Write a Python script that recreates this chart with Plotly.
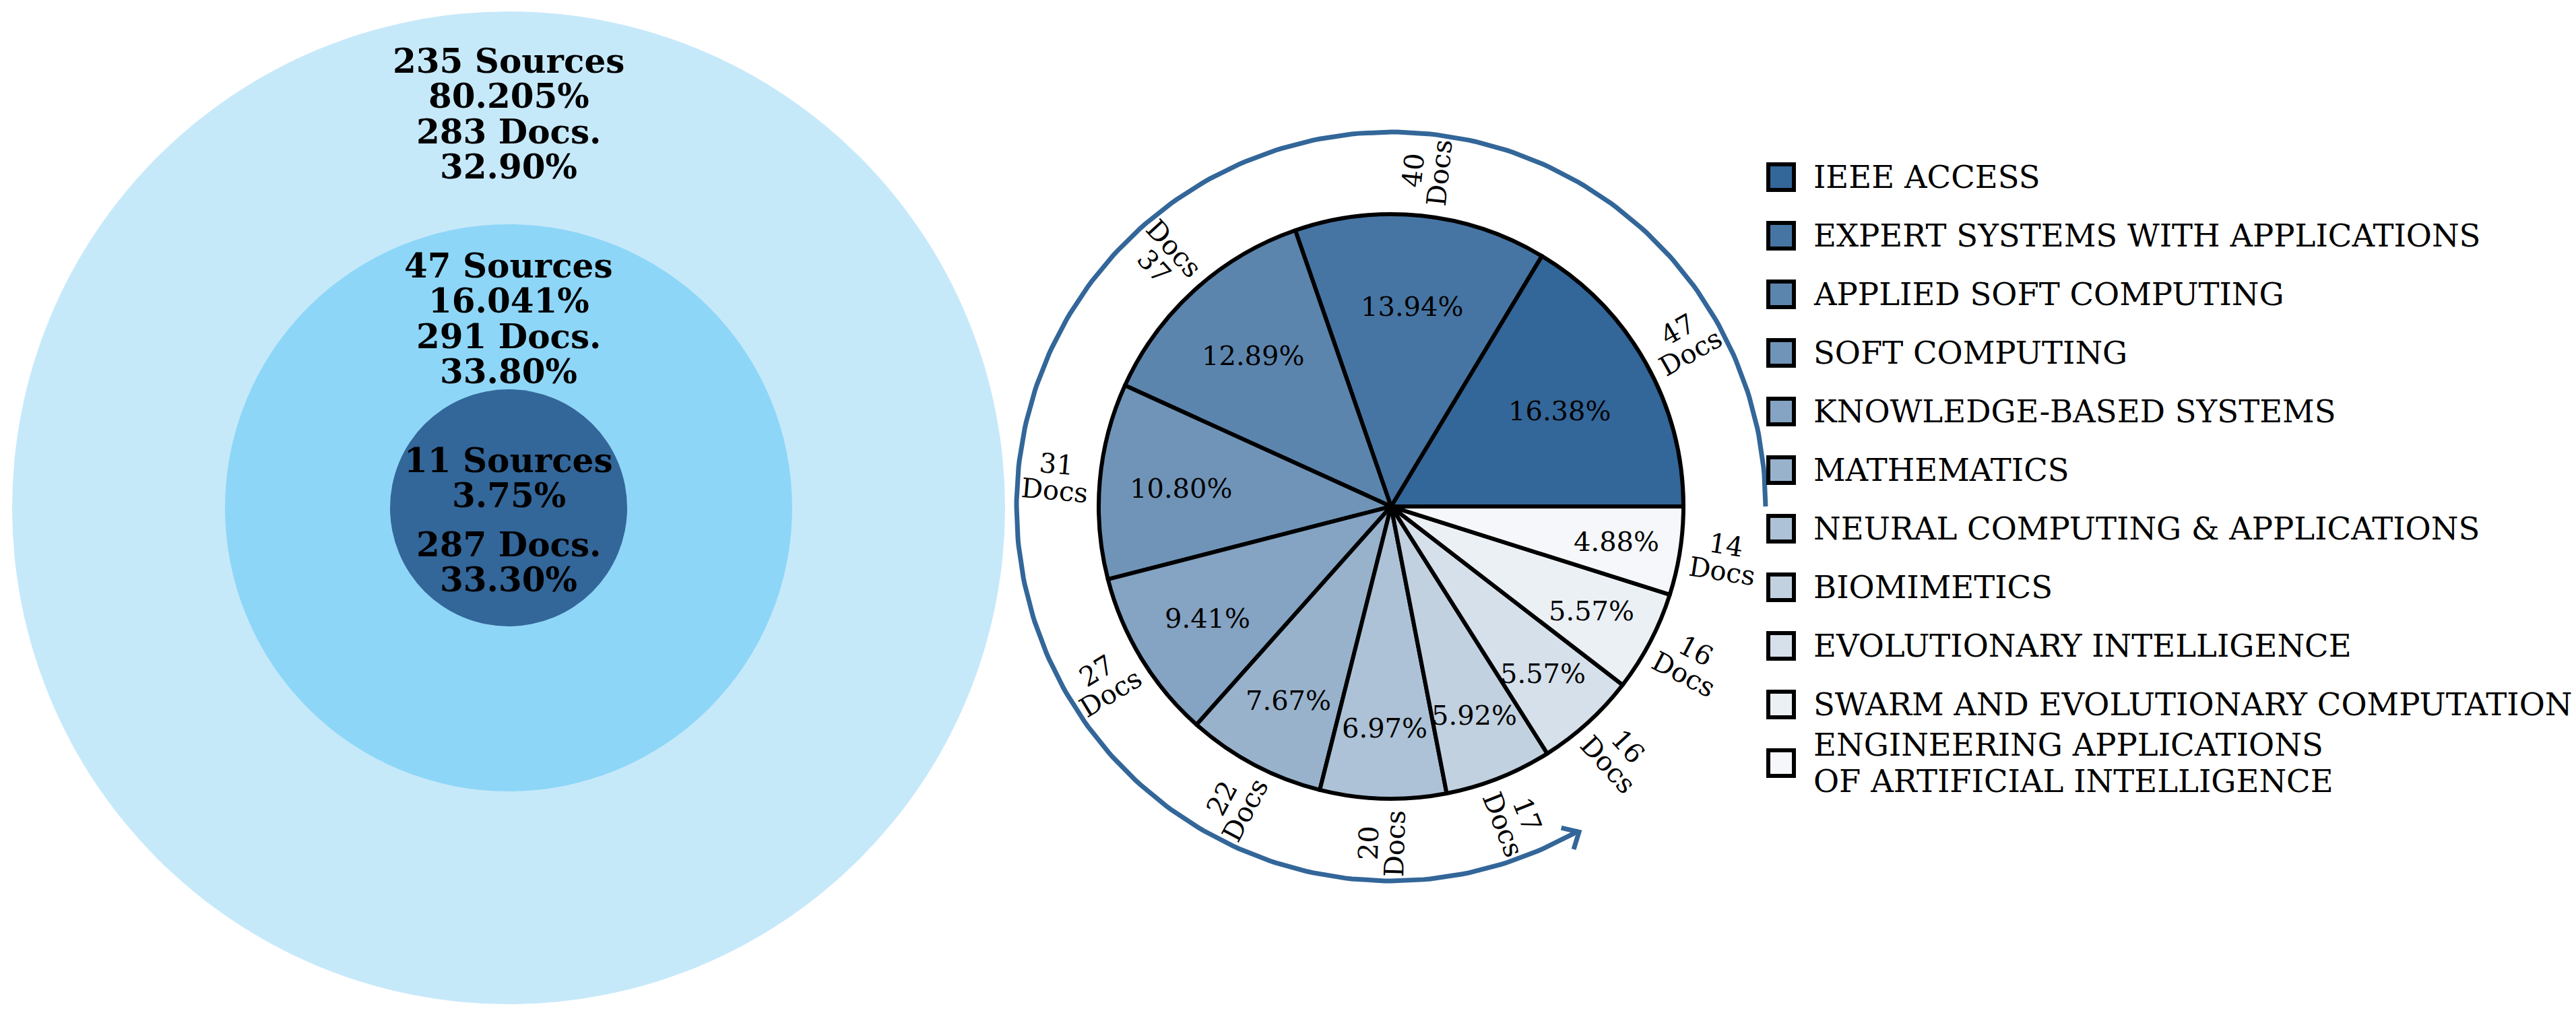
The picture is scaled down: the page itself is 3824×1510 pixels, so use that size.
import math
import plotly.graph_objects as go

W, H = 3824, 1510

# ---------------- data ----------------
# Bradford zones (left)
zone_sources = [235, 47, 11]
zone_source_pct = [80.205, 16.041, 3.75]
zone_docs = [283, 291, 287]
zone_docs_pct = [32.90, 33.80, 33.30]

# Core sources (right)
journals = [
    "IEEE ACCESS",
    "EXPERT SYSTEMS WITH APPLICATIONS",
    "APPLIED SOFT COMPUTING",
    "SOFT COMPUTING",
    "KNOWLEDGE-BASED SYSTEMS",
    "MATHEMATICS",
    "NEURAL COMPUTING & APPLICATIONS",
    "BIOMIMETICS",
    "EVOLUTIONARY INTELLIGENCE",
    "SWARM AND EVOLUTIONARY COMPUTATION",
    "ENGINEERING APPLICATIONS<br>OF ARTIFICIAL INTELLIGENCE",
]
docs = [47, 40, 37, 31, 27, 22, 20, 17, 16, 16, 14]

# ---------------- style ----------------
SERIF = "DejaVu Serif"
zone_colors = ["#C6E9FA", "#8ED6F7", "#336699"]
zone_radii = [737, 421, 176]
ZCX, ZCY = 755, 754            # image coords (y down)
zone_top = [90, 394, 683]
zone_gap = [0, 0, 20]
LINE_PITCH = 52.5

base_rgb = (51, 102, 153)
mix = [100, 90, 80, 70, 60, 50, 40, 30, 20, 10, 5]


def tint(p):
    f = p / 100.0
    r, g, b = (round(c * f + 255 * (1 - f)) for c in base_rgb)
    return f"rgb({r},{g},{b})"


slice_colors = [tint(p) for p in mix]

PCX, PCY_IMG, R = 2065, 752, 434
PCY = H - PCY_IMG
ARC_R = 556
LABEL_R = 500


def pct_radius(pct):
    # larger slices carry their label a little closer to the centre
    return 360 - 4.4 * pct


def Y(y_img):
    return H - y_img


fig = go.Figure()
shapes = []
annotations = []

# ---------------- left concentric zones ----------------
for r, col in zip(zone_radii, zone_colors):
    shapes.append(dict(type="circle", xref="x", yref="y", layer="below",
                       x0=ZCX - r, x1=ZCX + r, y0=Y(ZCY) - r, y1=Y(ZCY) + r,
                       fillcolor=col, line=dict(width=0)))

for i in range(3):
    lines = [f"{zone_sources[i]} Sources", f"{zone_source_pct[i]:g}%",
             f"{zone_docs[i]} Docs.", f"{zone_docs_pct[i]:.2f}%"]
    for k, t in enumerate(lines):
        y = zone_top[i] + k * LINE_PITCH + (zone_gap[i] if k >= 2 else 0)
        annotations.append(dict(x=ZCX, y=Y(y), xref="x", yref="y", text=t,
                                showarrow=False, xanchor="center", yanchor="middle",
                                font=dict(family=SERIF, size=50, color="black", weight="bold")))

# ---------------- pie ----------------
total = sum(docs)
fig.add_trace(go.Pie(
    values=docs, labels=[j.replace("<br>", " ") for j in journals], sort=False,
    direction="counterclockwise", rotation=90 - docs[0] / total * 360,
    marker=dict(colors=slice_colors, line=dict(color="black", width=6)),
    textinfo="none", hoverinfo="label+value+percent", showlegend=False,
    domain=dict(x=[(PCX - R) / W, (PCX + R) / W], y=[(PCY - R) / H, (PCY + R) / H]),
))

cum = 0
for i, v in enumerate(docs):
    mid = (cum + v / 2) / total * 360.0
    cum += v
    th = math.radians(mid)
    pct = v / total * 100
    pr = pct_radius(pct)
    # percentage inside
    annotations.append(dict(x=PCX + pr * math.cos(th), y=PCY + pr * math.sin(th),
                            xref="x", yref="y", text=f"{pct:.2f}%",
                            showarrow=False, font=dict(family=SERIF, size=40, color="black")))
    # outside label, radial orientation
    m = mid % 360
    alpha = m - 180 if 90 < m < 270 else (m if m <= 90 else m - 360)
    a = math.radians(alpha)
    dvec = (math.sin(a), -math.cos(a))
    lines = [str(v), "Docs"] if i != 2 else ["Docs", str(v)]
    cx, cy = PCX + LABEL_R * math.cos(th), PCY + LABEL_R * math.sin(th)
    for k, t in enumerate(lines):
        off = (k - 0.5) * 39
        annotations.append(dict(x=cx + off * dvec[0], y=cy + off * dvec[1], xref="x", yref="y",
                                text=t, textangle=-alpha, showarrow=False,
                                font=dict(family=SERIF, size=40, color="black")))

# ---------------- arrow arc ----------------
ARC_START, ARC_END = 0, 300
ts = [ARC_START + d for d in range(0, ARC_END - ARC_START + 1)]
fig.add_trace(go.Scatter(
    x=[PCX + ARC_R * math.cos(math.radians(t)) for t in ts],
    y=[PCY + ARC_R * math.sin(math.radians(t)) for t in ts],
    mode="lines", line=dict(color="#336699", width=7), hoverinfo="skip", showlegend=False))
te = math.radians(ARC_END)
tipx, tipy = PCX + (ARC_R + 2) * math.cos(te), PCY + (ARC_R + 2) * math.sin(te)
back = math.atan2(-math.cos(te), math.sin(te))
bx, by = [], []
for sgn in (1, -1):
    ang = back + sgn * math.radians(43)
    bx.append(tipx + 27 * math.cos(ang))
    by.append(tipy + 27 * math.sin(ang))
fig.add_trace(go.Scatter(x=[bx[0], tipx, bx[1]], y=[by[0], tipy, by[1]], mode="lines",
                         line=dict(color="#336699", width=7), hoverinfo="skip", showlegend=False))

# ---------------- legend ----------------
LEG_X, LEG_TOP, LEG_PITCH, BOX = 2644, 263, 87, 38
for i, name in enumerate(journals):
    yc = Y(LEG_TOP + i * LEG_PITCH)
    shapes.append(dict(type="rect", xref="x", yref="y", layer="above",
                       x0=LEG_X - BOX / 2, x1=LEG_X + BOX / 2, y0=yc - BOX / 2, y1=yc + BOX / 2,
                       fillcolor=slice_colors[i], line=dict(color="black", width=6)))
    parts = name.split("<br>")
    n = len(parts)
    for k, t in enumerate(parts):
        annotations.append(dict(x=2690, y=yc - (k - (n - 1) / 2) * 54, xref="x", yref="y",
                                text=t, showarrow=False, xanchor="left", yanchor="middle",
                                font=dict(family=SERIF, size=46.5, color="black")))

fig.update_layout(
    width=W, height=H, margin=dict(l=0, r=0, t=0, b=0),
    paper_bgcolor="white", plot_bgcolor="rgba(0,0,0,0)",
    xaxis=dict(range=[0, W], visible=False, fixedrange=True, domain=[0, 1]),
    yaxis=dict(range=[0, H], visible=False, fixedrange=True, domain=[0, 1]),
    shapes=shapes, annotations=annotations, showlegend=False,
)

fig.write_html("out.html", config={"displayModeBar": False},
               post_script="document.body.style.margin='0';document.body.style.padding='0';")
